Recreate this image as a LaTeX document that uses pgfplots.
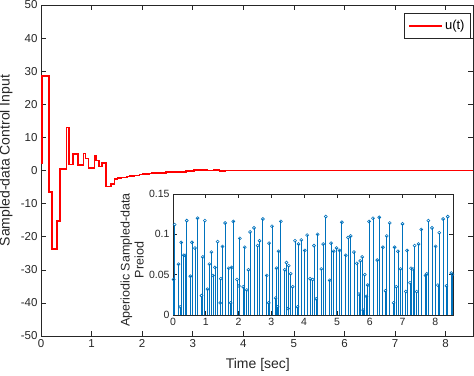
\documentclass[border=0pt]{standalone}
\usepackage{pgfplots}
\pgfplotsset{compat=1.18}
\usepackage{fontspec}
\setmainfont{Liberation Sans}
\definecolor{mblue}{RGB}{0,114,189}
\definecolor{axgray}{RGB}{38,38,38}

\pgfplotstableread{
t h
0.02 0.044
0.05 0.112
0.17 0.063
0.22 0.010
0.25 0.090
0.33 0.074
0.37 0.074
0.42 0.117
0.53 0.048
0.58 0.090
0.67 0.083
0.75 0.120
0.87 0.024
0.91 0.072
0.97 0.117
1.05 0.032
1.11 0.063
1.17 0.078
1.22 0.049
1.28 0.059
1.36 0.091
1.44 0.015
1.46 0.045
1.51 0.085
1.59 0.114
1.70 0.058
1.76 0.015
1.79 0.059
1.84 0.116
1.95 0.044
2.01 0.036
2.04 0.095
2.14 0.035
2.19 0.084
2.25 0.031
2.30 0.056
2.35 0.103
2.47 0.108
2.58 0.086
2.64 0.092
2.74 0.119
2.86 0.049
2.92 0.015
2.93 0.089
3.02 0.110
3.13 0.021
3.16 0.058
3.19 0.010
3.22 0.079
3.29 0.116
3.41 0.056
3.46 0.065
3.51 0.008
3.53 0.061
3.59 0.051
3.65 0.035
3.72 0.092
3.80 0.010
3.83 0.088
3.91 0.093
4.02 0.080
4.09 0.099
4.18 0.045
4.26 0.044
4.30 0.086
4.37 0.020
4.41 0.100
4.52 0.057
4.58 0.088
4.66 0.122
4.78 0.043
4.82 0.089
4.90 0.079
4.99 0.083
5.08 0.080
5.15 0.115
5.27 0.074
5.34 0.096
5.42 0.098
5.52 0.078
5.61 0.064
5.67 0.026
5.71 0.067
5.77 0.072
5.80 0.006
5.85 0.050
5.90 0.023
5.94 0.037
5.98 0.116
6.10 0.120
6.23 0.068
6.29 0.121
6.40 0.084
6.48 0.030
6.52 0.098
6.61 0.114
6.73 0.015
6.76 0.084
6.81 0.035
6.86 0.079
6.94 0.057
7.00 0.113
7.10 0.029
7.14 0.080
7.23 0.040
7.26 0.058
7.32 0.057
7.37 0.086
7.43 0.029
7.49 0.088
7.57 0.106
7.70 0.049
7.74 0.051
7.79 0.117
7.90 0.108
8.01 0.085
8.08 0.037
8.12 0.102
8.24 0.119
8.34 0.036
8.38 0.122
8.49 0.052
8.52 0.050
}\periods

\begin{document}
\begin{tikzpicture}
\path[use as bounding box] (-41pt,-39pt) rectangle (433pt,336pt);
\begin{axis}[
  at={(0pt,0pt)}, anchor=south west,
  scale only axis, width=432pt, height=331pt,
  xmin=0, xmax=8.54, ymin=-50, ymax=50,
  xtick={0,1,...,8}, ytick={-50,-40,...,50},
  tick align=inside, tick pos=both, major tick length=5pt,
  axis line style={axgray, line width=0.6pt},
  tick style={axgray, line width=0.6pt},
  /pgf/number format/assume math mode=true,
  ticklabel style={font=\fontsize{11.5}{13}\selectfont, text=axgray},
  xlabel={Time [sec]},
  xlabel style={font=\fontsize{14}{16}\selectfont, text=axgray, at={(axis description cs:0.502,-0.0876)}, anchor=center},
  ylabel={Sampled-data Control Input},
  ylabel style={font=\fontsize{14}{16}\selectfont, text=axgray, at={(axis description cs:-0.081,0.53)}, anchor=center},
  legend style={at={(axis description cs:0.995,0.975)}, anchor=north east, draw=axgray, line width=0.6pt, font=\fontsize{13}{15}\selectfont, inner xsep=4pt, inner ysep=5pt},
  legend cell align=left,
  legend image code/.code={\draw[#1] (0pt,0pt) -- (33pt,0pt);},
]
\addplot[red, line width=1.7pt, const plot mark left] coordinates {
(0,2.3) (0.015,28.6) (0.165,-6.6) (0.218,-23.7) (0.317,-15.3) (0.38,0.4)
(0.507,13) (0.56,1.8) (0.633,4.9) (0.733,1.6) (0.838,5.1) (0.877,3.6)
(0.937,0.7) (1.056,4.5) (1.089,3) (1.148,1.2) (1.2,2.3) (1.28,-4.8)
(1.385,-4.0) (1.45,-2.6) (1.51,-2.35) (1.59,-2.1) (1.70,-1.8) (1.76,-1.7)
(1.79,-1.65) (1.84,-1.5) (1.95,-1.25) (2.01,-1.15) (2.04,-1.1) (2.14,-0.95)
(2.19,-0.85) (2.25,-0.75) (2.30,-0.7) (2.35,-0.65) (2.47,-0.55) (2.58,-0.45)
(2.64,-0.4) (2.74,-0.35) (2.86,-0.25) (2.93,-0.1) (3.02,0.2) (3.13,0.05)
(3.22,0.15) (3.29,0.0) (3.41,0.1) (3.53,-0.05) (3.65,0.03) (3.80,0)
(8.54,0)
};
\addlegendentry{u(t)}
\end{axis}

\begin{axis}[
  at={(132pt,21pt)}, anchor=south west,
  scale only axis, width=280pt, height=121pt,
  xmin=0, xmax=8.54, ymin=0, ymax=0.15,
  xtick={0,1,...,8}, ytick={0,0.05,0.1,0.15},
  tick align=inside, tick pos=both, major tick length=4pt,
  axis background/.style={fill=white},
  axis line style={axgray, line width=0.6pt},
  tick style={axgray, line width=0.6pt},
  /pgf/number format/assume math mode=true,
  /pgf/number format/fixed, /pgf/number format/precision=2,
  ticklabel style={font=\fontsize{10.5}{12}\selectfont, text=axgray},
  ylabel={Aperiodic Sampled-data\\Preiod},
  ylabel style={font=\fontsize{12.5}{14}\selectfont, text=axgray, align=center, at={(axis description cs:-0.146,0.455)}, anchor=center},
]
\addplot[mblue, ycomb, line width=0.8pt, mark=o, mark size=1.5pt, mark options={line width=0.6pt}] table[x=t, y=h] {\periods};
\end{axis}
\end{tikzpicture}
\end{document}
